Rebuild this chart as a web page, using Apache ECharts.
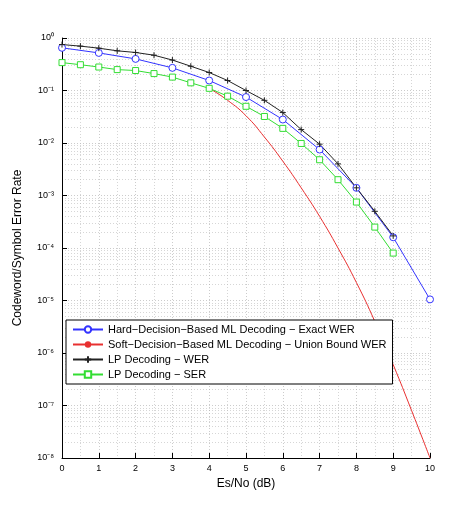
<!DOCTYPE html><html><head><meta charset="utf-8"><script src="https://cdn.jsdelivr.net/npm/echarts@6/dist/echarts.min.js"></script></head><body style="margin:0;background:#fff"><div id="c" style="width:474px;height:515px"></div><script>
const xHard=[0,1,2,3,4,5,6,7,8,9,10];
const hard=[0.65,0.52,0.40,0.27,0.155,0.075,0.028,0.0075,0.0014,0.00016,1.05e-5];
const xHalf=[0,0.5,1,1.5,2,2.5,3,3.5,4,4.5,5,5.5,6,6.5,7,7.5,8,8.5,9];
const lpWer=[0.75,0.7,0.64,0.57,0.53,0.47,0.38,0.29,0.22,0.155,0.1,0.065,0.038,0.018,0.0095,0.004,0.0014,0.0005,0.00017];
const lpSer=[0.34,0.31,0.28,0.25,0.24,0.21,0.18,0.14,0.11,0.078,0.05,0.032,0.019,0.0098,0.0048,0.002,0.00075,0.00025,0.00008];
const xSoft=[4,4.5,5,5.5,6,6.5,7,7.5,8,8.5,9,9.5,10];
const soft=[0.11,0.065,0.033,0.013,0.0045,0.0014,0.0004,0.0001,2.2e-5,4e-6,6e-7,8e-8,1e-8];
const names=['Hard−Decision−Based ML Decoding − Exact WER','Soft−Decision−Based ML Decoding − Union Bound WER','LP Decoding − WER','LP Decoding − SER'];
const z=(xs,ys)=>xs.map((x,i)=>[x,ys[i]]);
const sup={'-':'⁻','0':'⁰','1':'¹','2':'²','3':'³','4':'⁴','5':'⁵','6':'⁶','7':'⁷','8':'⁸'};
const ch=echarts.init(document.getElementById('c'));
ch.setOption({animation:false,
grid:{left:62,right:44,top:38,bottom:57},
xAxis:{type:'value',min:0,max:10,interval:1,name:'Es/No (dB)',nameLocation:'middle',nameGap:20,nameTextStyle:{fontSize:12,color:'#000',fontFamily:'Liberation Sans'},
 axisLine:{lineStyle:{color:'#000'}},axisTick:{inside:true,lineStyle:{color:'#000'}},axisLabel:{fontSize:9,color:'#000',margin:6},
 splitLine:{show:true,lineStyle:{type:[1,2],color:'#aaa',width:0.6}},minorTick:{show:false,splitNumber:2},minorSplitLine:{show:true,lineStyle:{type:[1,2],color:'#bbb',width:0.6}}},
yAxis:{type:'log',min:1e-8,max:1,logBase:10,name:'Codeword/Symbol Error Rate',nameLocation:'middle',nameGap:38,nameTextStyle:{fontSize:12,color:'#000',fontFamily:'Liberation Sans'},
 axisLine:{lineStyle:{color:'#000'}},axisTick:{inside:true,lineStyle:{color:'#000'}},
 axisLabel:{fontSize:9,color:'#000',formatter:v=>{const e=Math.round(Math.log10(v));return '10'+String(e).split('').map(c=>sup[c]).join('');}},
 splitLine:{show:true,lineStyle:{type:[1,2],color:'#aaa',width:0.6}},minorTick:{show:false,splitNumber:9},minorSplitLine:{show:true,lineStyle:{type:[1,2],color:'#bbb',width:0.6}}},
legend:{orient:'vertical',left:66,top:320,width:354,padding:[4,6],itemGap:4,itemWidth:30,itemHeight:8,backgroundColor:'#fff',borderColor:'#000',borderWidth:1,borderRadius:0,
 textStyle:{fontSize:11,color:'#000',fontFamily:'Liberation Sans'},data:names},
series:[
{name:names[0],type:'line',data:z(xHard,hard),lineStyle:{width:1,color:'#3333ff'},symbol:'circle',symbolSize:7,itemStyle:{color:'#fff',borderColor:'#3333ff',borderWidth:1}},
{name:names[1],type:'line',data:z(xSoft,soft),smooth:true,lineStyle:{width:1,color:'#e83030'},itemStyle:{color:'#e83030'},symbol:'none'},
{name:names[2],type:'line',data:z(xHalf,lpWer),lineStyle:{width:1,color:'#222'},symbol:'path://M-1,0L1,0M0,-1L0,1',symbolSize:6,itemStyle:{color:'#222',borderColor:'#222',borderWidth:1}},
{name:names[3],type:'line',data:z(xHalf,lpSer),lineStyle:{width:1,color:'#33dd33'},symbol:'rect',symbolSize:6,itemStyle:{color:'#fff',borderColor:'#33dd33',borderWidth:1}}
]});
</script></body></html>
